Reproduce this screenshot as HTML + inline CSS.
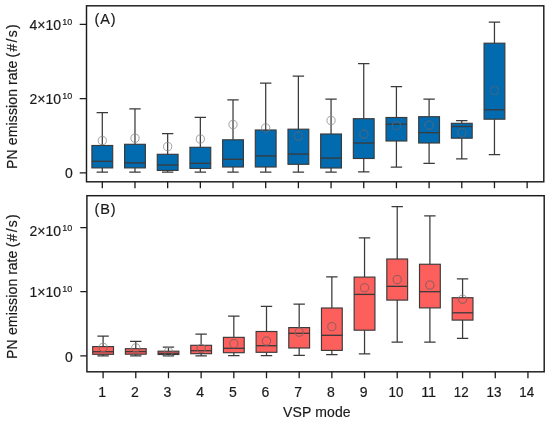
<!DOCTYPE html>
<html lang="en"><head><meta charset="utf-8"><title>PN emission rate by VSP mode</title>
<style>html,body{margin:0;padding:0;background:#fff}body{width:550px;height:423px;overflow:hidden}svg{display:block}text{font-family:"Liberation Sans",sans-serif;stroke:#1a1a1a;stroke-width:0.18px}</style>
</head><body>
<svg width="550" height="423" viewBox="0 0 550 423" font-size="14" fill="#1a1a1a">
<rect width="550" height="423" fill="#ffffff"/>
<g stroke="#3a3a3a" stroke-width="1.25" fill="none">
<path d="M102.30 112.50V145.50M102.30 167.90V172.20M96.60 112.50H108.00M96.60 172.20H108.00"/>
<rect x="91.90" y="145.50" width="20.80" height="22.40" fill="#026aae" stroke-width="1.15"/>
<path d="M91.90 161.30H112.70" stroke-width="1.3"/>
</g>
<circle cx="102.30" cy="140.60" r="4.1" fill="none" stroke="#8a8a8a" stroke-width="0.8"/>
<clipPath id="c026aae0"><rect x="92.50" y="146.10" width="19.60" height="21.20"/></clipPath>
<circle cx="102.30" cy="140.60" r="4.1" fill="none" stroke="#1d527f" stroke-width="0.7" clip-path="url(#c026aae0)"/>
<g stroke="#3a3a3a" stroke-width="1.25" fill="none">
<path d="M134.98 108.80V144.30M134.98 167.90V172.20M129.28 108.80H140.68M129.28 172.20H140.68"/>
<rect x="124.58" y="144.30" width="20.80" height="23.60" fill="#026aae" stroke-width="1.15"/>
<path d="M124.58 162.90H145.38" stroke-width="1.3"/>
</g>
<circle cx="134.98" cy="138.20" r="4.1" fill="none" stroke="#8a8a8a" stroke-width="0.8"/>
<clipPath id="c026aae1"><rect x="125.18" y="144.90" width="19.60" height="22.40"/></clipPath>
<circle cx="134.98" cy="138.20" r="4.1" fill="none" stroke="#1d527f" stroke-width="0.7" clip-path="url(#c026aae1)"/>
<g stroke="#3a3a3a" stroke-width="1.25" fill="none">
<path d="M167.66 133.60V154.30M167.66 170.40V172.20M161.96 133.60H173.36M161.96 172.20H173.36"/>
<rect x="157.26" y="154.30" width="20.80" height="16.10" fill="#026aae" stroke-width="1.15"/>
<path d="M157.26 165.00H178.06" stroke-width="1.3"/>
</g>
<circle cx="167.66" cy="146.60" r="4.1" fill="none" stroke="#8a8a8a" stroke-width="0.8"/>
<clipPath id="c026aae2"><rect x="157.86" y="154.90" width="19.60" height="14.90"/></clipPath>
<circle cx="167.66" cy="146.60" r="4.1" fill="none" stroke="#1d527f" stroke-width="0.7" clip-path="url(#c026aae2)"/>
<g stroke="#3a3a3a" stroke-width="1.25" fill="none">
<path d="M200.34 117.30V147.30M200.34 168.40V172.00M194.64 117.30H206.04M194.64 172.00H206.04"/>
<rect x="189.94" y="147.30" width="20.80" height="21.10" fill="#026aae" stroke-width="1.15"/>
<path d="M189.94 163.30H210.74" stroke-width="1.3"/>
</g>
<circle cx="200.34" cy="139.00" r="4.1" fill="none" stroke="#8a8a8a" stroke-width="0.8"/>
<clipPath id="c026aae3"><rect x="190.54" y="147.90" width="19.60" height="19.90"/></clipPath>
<circle cx="200.34" cy="139.00" r="4.1" fill="none" stroke="#1d527f" stroke-width="0.7" clip-path="url(#c026aae3)"/>
<g stroke="#3a3a3a" stroke-width="1.25" fill="none">
<path d="M233.02 99.90V139.80M233.02 167.00V172.00M227.32 99.90H238.72M227.32 172.00H238.72"/>
<rect x="222.62" y="139.80" width="20.80" height="27.20" fill="#026aae" stroke-width="1.15"/>
<path d="M222.62 159.30H243.42" stroke-width="1.3"/>
</g>
<circle cx="233.02" cy="124.50" r="4.1" fill="none" stroke="#8a8a8a" stroke-width="0.8"/>
<clipPath id="c026aae4"><rect x="223.22" y="140.40" width="19.60" height="26.00"/></clipPath>
<circle cx="233.02" cy="124.50" r="4.1" fill="none" stroke="#1d527f" stroke-width="0.7" clip-path="url(#c026aae4)"/>
<g stroke="#3a3a3a" stroke-width="1.25" fill="none">
<path d="M265.70 83.10V130.00M265.70 167.00V172.00M260.00 83.10H271.40M260.00 172.00H271.40"/>
<rect x="255.30" y="130.00" width="20.80" height="37.00" fill="#026aae" stroke-width="1.15"/>
<path d="M255.30 155.90H276.10" stroke-width="1.3"/>
</g>
<circle cx="265.70" cy="127.90" r="4.1" fill="none" stroke="#8a8a8a" stroke-width="0.8"/>
<clipPath id="c026aae5"><rect x="255.90" y="130.60" width="19.60" height="35.80"/></clipPath>
<circle cx="265.70" cy="127.90" r="4.1" fill="none" stroke="#1d527f" stroke-width="0.7" clip-path="url(#c026aae5)"/>
<g stroke="#3a3a3a" stroke-width="1.25" fill="none">
<path d="M298.38 76.20V129.20M298.38 164.30V172.00M292.68 76.20H304.08M292.68 172.00H304.08"/>
<rect x="287.98" y="129.20" width="20.80" height="35.10" fill="#026aae" stroke-width="1.15"/>
<path d="M287.98 154.10H308.78" stroke-width="1.3"/>
</g>
<circle cx="298.38" cy="136.20" r="4.1" fill="none" stroke="#8a8a8a" stroke-width="0.8"/>
<clipPath id="c026aae6"><rect x="288.58" y="129.80" width="19.60" height="33.90"/></clipPath>
<circle cx="298.38" cy="136.20" r="4.1" fill="none" stroke="#1d527f" stroke-width="0.7" clip-path="url(#c026aae6)"/>
<g stroke="#3a3a3a" stroke-width="1.25" fill="none">
<path d="M331.06 99.10V134.00M331.06 168.00V172.00M325.36 99.10H336.76M325.36 172.00H336.76"/>
<rect x="320.66" y="134.00" width="20.80" height="34.00" fill="#026aae" stroke-width="1.15"/>
<path d="M320.66 158.10H341.46" stroke-width="1.3"/>
</g>
<circle cx="331.06" cy="120.50" r="4.1" fill="none" stroke="#8a8a8a" stroke-width="0.8"/>
<clipPath id="c026aae7"><rect x="321.26" y="134.60" width="19.60" height="32.80"/></clipPath>
<circle cx="331.06" cy="120.50" r="4.1" fill="none" stroke="#1d527f" stroke-width="0.7" clip-path="url(#c026aae7)"/>
<g stroke="#3a3a3a" stroke-width="1.25" fill="none">
<path d="M363.74 63.70V118.70M363.74 158.50V171.80M358.04 63.70H369.44M358.04 171.80H369.44"/>
<rect x="353.34" y="118.70" width="20.80" height="39.80" fill="#026aae" stroke-width="1.15"/>
<path d="M353.34 143.00H374.14" stroke-width="1.3"/>
</g>
<circle cx="363.74" cy="134.20" r="4.1" fill="none" stroke="#8a8a8a" stroke-width="0.8"/>
<clipPath id="c026aae8"><rect x="353.94" y="119.30" width="19.60" height="38.60"/></clipPath>
<circle cx="363.74" cy="134.20" r="4.1" fill="none" stroke="#1d527f" stroke-width="0.7" clip-path="url(#c026aae8)"/>
<g stroke="#3a3a3a" stroke-width="1.25" fill="none">
<path d="M396.42 86.60V117.50M396.42 141.00V167.00M390.72 86.60H402.12M390.72 167.00H402.12"/>
<rect x="386.02" y="117.50" width="20.80" height="23.50" fill="#026aae" stroke-width="1.15"/>
<path d="M386.02 124.20H406.82" stroke-width="1.3"/>
</g>
<circle cx="396.42" cy="125.60" r="4.1" fill="none" stroke="#8a8a8a" stroke-width="0.8"/>
<clipPath id="c026aae9"><rect x="386.62" y="118.10" width="19.60" height="22.30"/></clipPath>
<circle cx="396.42" cy="125.60" r="4.1" fill="none" stroke="#1d527f" stroke-width="0.7" clip-path="url(#c026aae9)"/>
<g stroke="#3a3a3a" stroke-width="1.25" fill="none">
<path d="M429.10 99.10V116.70M429.10 143.00V163.30M423.40 99.10H434.80M423.40 163.30H434.80"/>
<rect x="418.70" y="116.70" width="20.80" height="26.30" fill="#026aae" stroke-width="1.15"/>
<path d="M418.70 132.70H439.50" stroke-width="1.3"/>
</g>
<circle cx="429.10" cy="125.20" r="4.1" fill="none" stroke="#8a8a8a" stroke-width="0.8"/>
<clipPath id="c026aae10"><rect x="419.30" y="117.30" width="19.60" height="25.10"/></clipPath>
<circle cx="429.10" cy="125.20" r="4.1" fill="none" stroke="#1d527f" stroke-width="0.7" clip-path="url(#c026aae10)"/>
<g stroke="#3a3a3a" stroke-width="1.25" fill="none">
<path d="M461.78 120.70V123.30M461.78 138.20V158.90M456.08 120.70H467.48M456.08 158.90H467.48"/>
<rect x="451.38" y="123.30" width="20.80" height="14.90" fill="#026aae" stroke-width="1.15"/>
<path d="M451.38 126.50H472.18" stroke-width="1.3"/>
</g>
<circle cx="461.78" cy="132.60" r="4.1" fill="none" stroke="#8a8a8a" stroke-width="0.8"/>
<clipPath id="c026aae11"><rect x="451.98" y="123.90" width="19.60" height="13.70"/></clipPath>
<circle cx="461.78" cy="132.60" r="4.1" fill="none" stroke="#1d527f" stroke-width="0.7" clip-path="url(#c026aae11)"/>
<g stroke="#3a3a3a" stroke-width="1.25" fill="none">
<path d="M494.46 22.10V43.20M494.46 119.20V154.70M488.76 22.10H500.16M488.76 154.70H500.16"/>
<rect x="484.06" y="43.20" width="20.80" height="76.00" fill="#026aae" stroke-width="1.15"/>
<path d="M484.06 109.80H504.86" stroke-width="1.3"/>
</g>
<circle cx="494.46" cy="90.50" r="4.1" fill="none" stroke="#8a8a8a" stroke-width="0.8"/>
<clipPath id="c026aae12"><rect x="484.66" y="43.80" width="19.60" height="74.80"/></clipPath>
<circle cx="494.46" cy="90.50" r="4.1" fill="none" stroke="#1d527f" stroke-width="0.7" clip-path="url(#c026aae12)"/>
<rect x="86.5" y="5.8" width="457.30" height="176.00" fill="none" stroke="#1c1c1c" stroke-width="1.45"/>
<g stroke="#3a3a3a" stroke-width="1.25" fill="none">
<path d="M103.10 336.00V346.60M103.10 354.30V355.90M97.40 336.00H108.80M97.40 355.90H108.80"/>
<rect x="92.70" y="346.60" width="20.80" height="7.70" fill="#fc5f5c" stroke-width="1.15"/>
<path d="M92.70 351.70H113.50" stroke-width="1.3"/>
</g>
<circle cx="103.10" cy="347.40" r="4.1" fill="none" stroke="#8a8a8a" stroke-width="0.8"/>
<clipPath id="cfc5f5c0"><rect x="93.30" y="347.20" width="19.60" height="6.50"/></clipPath>
<circle cx="103.10" cy="347.40" r="4.1" fill="none" stroke="#a04444" stroke-width="0.7" clip-path="url(#cfc5f5c0)"/>
<g stroke="#3a3a3a" stroke-width="1.25" fill="none">
<path d="M135.78 341.40V348.70M135.78 354.20V355.90M130.08 341.40H141.48M130.08 355.90H141.48"/>
<rect x="125.38" y="348.70" width="20.80" height="5.50" fill="#fc5f5c" stroke-width="1.15"/>
<path d="M125.38 351.60H146.18" stroke-width="1.3"/>
</g>
<circle cx="135.78" cy="347.90" r="4.1" fill="none" stroke="#8a8a8a" stroke-width="0.8"/>
<clipPath id="cfc5f5c1"><rect x="125.98" y="349.30" width="19.60" height="4.30"/></clipPath>
<circle cx="135.78" cy="347.90" r="4.1" fill="none" stroke="#a04444" stroke-width="0.7" clip-path="url(#cfc5f5c1)"/>
<g stroke="#3a3a3a" stroke-width="1.25" fill="none">
<path d="M168.46 347.20V351.20M168.46 354.50V355.90M162.76 347.20H174.16M162.76 355.90H174.16"/>
<rect x="158.06" y="351.20" width="20.80" height="3.30" fill="#fc5f5c" stroke-width="1.15"/>
<path d="M158.06 353.30H178.86" stroke-width="1.3"/>
</g>
<circle cx="168.46" cy="351.70" r="4.1" fill="none" stroke="#8a8a8a" stroke-width="0.8"/>
<clipPath id="cfc5f5c2"><rect x="158.66" y="351.80" width="19.60" height="2.10"/></clipPath>
<circle cx="168.46" cy="351.70" r="4.1" fill="none" stroke="#a04444" stroke-width="0.7" clip-path="url(#cfc5f5c2)"/>
<g stroke="#3a3a3a" stroke-width="1.25" fill="none">
<path d="M201.14 334.20V345.30M201.14 353.70V355.90M195.44 334.20H206.84M195.44 355.90H206.84"/>
<rect x="190.74" y="345.30" width="20.80" height="8.40" fill="#fc5f5c" stroke-width="1.15"/>
<path d="M190.74 350.70H211.54" stroke-width="1.3"/>
</g>
<circle cx="201.14" cy="348.40" r="4.1" fill="none" stroke="#8a8a8a" stroke-width="0.8"/>
<clipPath id="cfc5f5c3"><rect x="191.34" y="345.90" width="19.60" height="7.20"/></clipPath>
<circle cx="201.14" cy="348.40" r="4.1" fill="none" stroke="#a04444" stroke-width="0.7" clip-path="url(#cfc5f5c3)"/>
<g stroke="#3a3a3a" stroke-width="1.25" fill="none">
<path d="M233.82 316.10V337.35M233.82 352.70V355.70M228.12 316.10H239.52M228.12 355.70H239.52"/>
<rect x="223.42" y="337.35" width="20.80" height="15.35" fill="#fc5f5c" stroke-width="1.15"/>
<path d="M223.42 348.30H244.22" stroke-width="1.3"/>
</g>
<circle cx="233.82" cy="343.60" r="4.1" fill="none" stroke="#8a8a8a" stroke-width="0.8"/>
<clipPath id="cfc5f5c4"><rect x="224.02" y="337.95" width="19.60" height="14.15"/></clipPath>
<circle cx="233.82" cy="343.60" r="4.1" fill="none" stroke="#a04444" stroke-width="0.7" clip-path="url(#cfc5f5c4)"/>
<g stroke="#3a3a3a" stroke-width="1.25" fill="none">
<path d="M266.50 306.30V331.50M266.50 352.30V355.70M260.80 306.30H272.20M260.80 355.70H272.20"/>
<rect x="256.10" y="331.50" width="20.80" height="20.80" fill="#fc5f5c" stroke-width="1.15"/>
<path d="M256.10 345.70H276.90" stroke-width="1.3"/>
</g>
<circle cx="266.50" cy="341.00" r="4.1" fill="none" stroke="#8a8a8a" stroke-width="0.8"/>
<clipPath id="cfc5f5c5"><rect x="256.70" y="332.10" width="19.60" height="19.60"/></clipPath>
<circle cx="266.50" cy="341.00" r="4.1" fill="none" stroke="#a04444" stroke-width="0.7" clip-path="url(#cfc5f5c5)"/>
<g stroke="#3a3a3a" stroke-width="1.25" fill="none">
<path d="M299.18 304.20V327.60M299.18 348.00V355.30M293.48 304.20H304.88M293.48 355.30H304.88"/>
<rect x="288.78" y="327.60" width="20.80" height="20.40" fill="#fc5f5c" stroke-width="1.15"/>
<path d="M288.78 333.30H309.58" stroke-width="1.3"/>
</g>
<circle cx="299.18" cy="332.20" r="4.1" fill="none" stroke="#8a8a8a" stroke-width="0.8"/>
<clipPath id="cfc5f5c6"><rect x="289.38" y="328.20" width="19.60" height="19.20"/></clipPath>
<circle cx="299.18" cy="332.20" r="4.1" fill="none" stroke="#a04444" stroke-width="0.7" clip-path="url(#cfc5f5c6)"/>
<g stroke="#3a3a3a" stroke-width="1.25" fill="none">
<path d="M331.86 276.90V308.00M331.86 350.40V354.70M326.16 276.90H337.56M326.16 354.70H337.56"/>
<rect x="321.46" y="308.00" width="20.80" height="42.40" fill="#fc5f5c" stroke-width="1.15"/>
<path d="M321.46 335.30H342.26" stroke-width="1.3"/>
</g>
<circle cx="331.86" cy="326.60" r="4.1" fill="none" stroke="#8a8a8a" stroke-width="0.8"/>
<clipPath id="cfc5f5c7"><rect x="322.06" y="308.60" width="19.60" height="41.20"/></clipPath>
<circle cx="331.86" cy="326.60" r="4.1" fill="none" stroke="#a04444" stroke-width="0.7" clip-path="url(#cfc5f5c7)"/>
<g stroke="#3a3a3a" stroke-width="1.25" fill="none">
<path d="M364.54 237.80V277.10M364.54 330.20V353.80M358.84 237.80H370.24M358.84 353.80H370.24"/>
<rect x="354.14" y="277.10" width="20.80" height="53.10" fill="#fc5f5c" stroke-width="1.15"/>
<path d="M354.14 294.40H374.94" stroke-width="1.3"/>
</g>
<circle cx="364.54" cy="287.70" r="4.1" fill="none" stroke="#8a8a8a" stroke-width="0.8"/>
<clipPath id="cfc5f5c8"><rect x="354.74" y="277.70" width="19.60" height="51.90"/></clipPath>
<circle cx="364.54" cy="287.70" r="4.1" fill="none" stroke="#a04444" stroke-width="0.7" clip-path="url(#cfc5f5c8)"/>
<g stroke="#3a3a3a" stroke-width="1.25" fill="none">
<path d="M397.22 206.70V259.00M397.22 300.10V342.10M391.52 206.70H402.92M391.52 342.10H402.92"/>
<rect x="386.82" y="259.00" width="20.80" height="41.10" fill="#fc5f5c" stroke-width="1.15"/>
<path d="M386.82 286.35H407.62" stroke-width="1.3"/>
</g>
<circle cx="397.22" cy="279.55" r="4.1" fill="none" stroke="#8a8a8a" stroke-width="0.8"/>
<clipPath id="cfc5f5c9"><rect x="387.42" y="259.60" width="19.60" height="39.90"/></clipPath>
<circle cx="397.22" cy="279.55" r="4.1" fill="none" stroke="#a04444" stroke-width="0.7" clip-path="url(#cfc5f5c9)"/>
<g stroke="#3a3a3a" stroke-width="1.25" fill="none">
<path d="M429.90 215.80V264.25M429.90 307.90V342.10M424.20 215.80H435.60M424.20 342.10H435.60"/>
<rect x="419.50" y="264.25" width="20.80" height="43.65" fill="#fc5f5c" stroke-width="1.15"/>
<path d="M419.50 291.70H440.30" stroke-width="1.3"/>
</g>
<circle cx="429.90" cy="285.05" r="4.1" fill="none" stroke="#8a8a8a" stroke-width="0.8"/>
<clipPath id="cfc5f5c10"><rect x="420.10" y="264.85" width="19.60" height="42.45"/></clipPath>
<circle cx="429.90" cy="285.05" r="4.1" fill="none" stroke="#a04444" stroke-width="0.7" clip-path="url(#cfc5f5c10)"/>
<g stroke="#3a3a3a" stroke-width="1.25" fill="none">
<path d="M462.58 278.80V297.70M462.58 320.10V338.30M456.88 278.80H468.28M456.88 338.30H468.28"/>
<rect x="452.18" y="297.70" width="20.80" height="22.40" fill="#fc5f5c" stroke-width="1.15"/>
<path d="M452.18 312.80H472.98" stroke-width="1.3"/>
</g>
<circle cx="462.58" cy="299.20" r="4.1" fill="none" stroke="#8a8a8a" stroke-width="0.8"/>
<clipPath id="cfc5f5c11"><rect x="452.78" y="298.30" width="19.60" height="21.20"/></clipPath>
<circle cx="462.58" cy="299.20" r="4.1" fill="none" stroke="#a04444" stroke-width="0.7" clip-path="url(#cfc5f5c11)"/>
<rect x="86.9" y="195.7" width="457.30" height="176.10" fill="none" stroke="#1c1c1c" stroke-width="1.45"/>
<path d="M79.7 24.3H86.5M79.7 98.7H86.5M79.7 172.8H86.5M102.30 181.8V188.3M134.98 181.8V188.3M167.66 181.8V188.3M200.34 181.8V188.3M233.02 181.8V188.3M265.70 181.8V188.3M298.38 181.8V188.3M331.06 181.8V188.3M363.74 181.8V188.3M396.42 181.8V188.3M429.10 181.8V188.3M461.78 181.8V188.3M494.46 181.8V188.3M527.14 181.8V188.3M80.3 227.6H86.9M80.3 291.7H86.9M80.3 355.9H86.9M103.10 371.8V378.2M135.78 371.8V378.2M168.46 371.8V378.2M201.14 371.8V378.2M233.82 371.8V378.2M266.50 371.8V378.2M299.18 371.8V378.2M331.86 371.8V378.2M364.54 371.8V378.2M397.22 371.8V378.2M429.90 371.8V378.2M462.58 371.8V378.2M495.26 371.8V378.2M527.94 371.8V378.2" stroke="#1c1c1c" stroke-width="1.3" fill="none"/>
<text x="29.5" y="29.6">4×10</text><text x="62.3" y="24.6" font-size="9">10</text>
<text x="29.5" y="104.2">2×10</text><text x="62.3" y="99.2" font-size="9">10</text>
<text x="72.7" y="178.4" text-anchor="end">0</text>
<text x="29.5" y="236.2">2×10</text><text x="62.3" y="231.2" font-size="9">10</text>
<text x="29.5" y="297.3">1×10</text><text x="62.3" y="292.3" font-size="9">10</text>
<text x="72.7" y="361.5" text-anchor="end">0</text>
<text x="102.10" y="397.3" text-anchor="middle">1</text>
<text x="134.78" y="397.3" text-anchor="middle">2</text>
<text x="167.46" y="397.3" text-anchor="middle">3</text>
<text x="200.14" y="397.3" text-anchor="middle">4</text>
<text x="232.82" y="397.3" text-anchor="middle">5</text>
<text x="265.50" y="397.3" text-anchor="middle">6</text>
<text x="298.18" y="397.3" text-anchor="middle">7</text>
<text x="330.86" y="397.3" text-anchor="middle">8</text>
<text x="363.54" y="397.3" text-anchor="middle">9</text>
<text x="388.47" y="397.3" textLength="14.9" lengthAdjust="spacingAndGlyphs">10</text>
<text x="421.15" y="397.3" textLength="14.9" lengthAdjust="spacingAndGlyphs">11</text>
<text x="453.83" y="397.3" textLength="14.9" lengthAdjust="spacingAndGlyphs">12</text>
<text x="486.51" y="397.3" textLength="14.9" lengthAdjust="spacingAndGlyphs">13</text>
<text x="519.19" y="397.3" textLength="14.9" lengthAdjust="spacingAndGlyphs">14</text>
<text x="283.0" y="417.2" textLength="67.6" lengthAdjust="spacing">VSP mode</text>
<text x="94.5" y="24.1" font-size="14.5" textLength="21.2" lengthAdjust="spacing">(A)</text>
<text x="94.5" y="213.9" font-size="14.5" textLength="21.2" lengthAdjust="spacing">(B)</text>
<text transform="translate(16.7 169.0) rotate(-90)" textLength="80.1" lengthAdjust="spacing">PN emission</text>
<text transform="translate(16.7 84.9) rotate(-90)" textLength="24.1" lengthAdjust="spacing">rate</text>
<text transform="translate(16.7 57.4) rotate(-90)" textLength="33.0" lengthAdjust="spacing">(#/s)</text>
<text transform="translate(16.7 358.9) rotate(-90)" textLength="80.1" lengthAdjust="spacing">PN emission</text>
<text transform="translate(16.7 274.8) rotate(-90)" textLength="24.1" lengthAdjust="spacing">rate</text>
<text transform="translate(16.7 247.3) rotate(-90)" textLength="33.0" lengthAdjust="spacing">(#/s)</text>
</svg>
</body></html>
